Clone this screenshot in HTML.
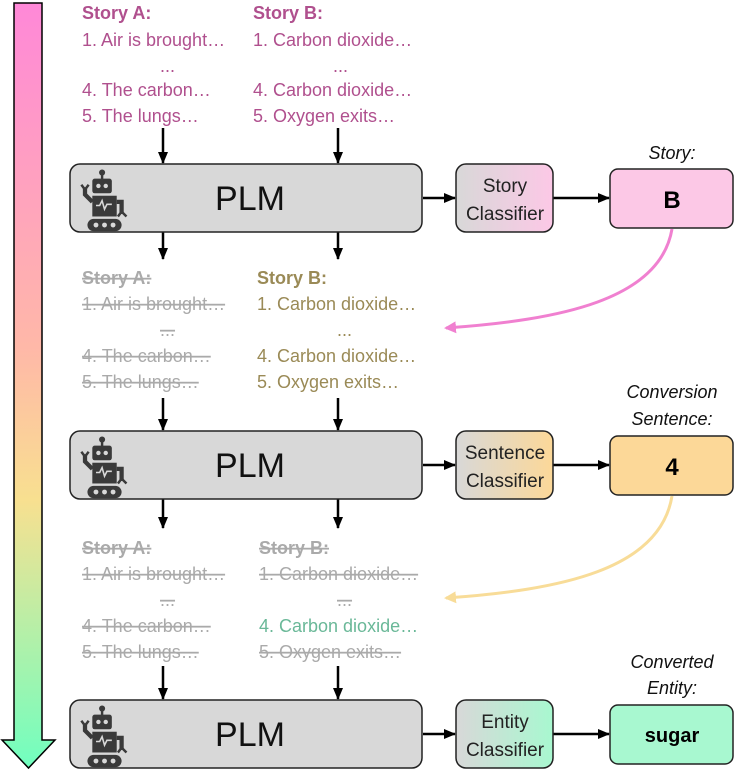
<!DOCTYPE html>
<html><head><meta charset="utf-8"><style>
body{margin:0;background:#fff}
svg{display:block;font-family:"Liberation Sans",sans-serif}
</style></head><body>
<svg width="738" height="776" viewBox="0 0 738 776" xmlns="http://www.w3.org/2000/svg">
<defs>
<linearGradient id="g" x1="0" y1="0" x2="0" y2="1">
<stop offset="0" stop-color="#ff88d8"/><stop offset="0.45" stop-color="#ffb8a8"/><stop offset="0.65" stop-color="#f8e090"/><stop offset="1" stop-color="#70ffc0"/></linearGradient>
<linearGradient id="c1" x1="0" x2="1"><stop offset="0" stop-color="#d8d8d8"/><stop offset="1" stop-color="#fcc8e6"/></linearGradient>
<linearGradient id="c2" x1="0" x2="1"><stop offset="0" stop-color="#d8d8d8"/><stop offset="1" stop-color="#fcd898"/></linearGradient>
<linearGradient id="c3" x1="0" x2="1"><stop offset="0" stop-color="#d8d8d8"/><stop offset="1" stop-color="#a8f8d0"/></linearGradient>
<marker id="ah" markerWidth="12" markerHeight="12" refX="11" refY="6" orient="auto" markerUnits="userSpaceOnUse" viewBox="0 0 12 12"><path d="M0,1 L12,6 L0,11z" fill="#000"/></marker>
<marker id="ap" markerWidth="12" markerHeight="12" refX="10" refY="6" orient="auto" markerUnits="userSpaceOnUse" viewBox="0 0 12 12"><path d="M0,0 L12,6 L0,12z" fill="#f080d0"/></marker>
<marker id="ay" markerWidth="12" markerHeight="12" refX="10" refY="6" orient="auto" markerUnits="userSpaceOnUse" viewBox="0 0 12 12"><path d="M0,0 L12,6 L0,12z" fill="#f8dc98"/></marker>
<g id="robot" fill="#3a3a3a">
<circle cx="14" cy="-2" r="2.5"/><rect x="13" y="-2" width="2" height="6"/>
<rect x="6" y="3" width="16" height="12" rx="2"/>
<circle cx="11" cy="9" r="1.8" fill="#d8d8d8"/><circle cx="17" cy="9" r="1.8" fill="#d8d8d8"/>
<rect x="6" y="17" width="20" height="17"/>
<path d="M9,25 l3,0 l2,-4 l2,7 l2,-4 l4,0" stroke="#d8d8d8" stroke-width="1.3" fill="none"/>
<path d="M6,22 L0,16 L0,10" stroke="#3a3a3a" stroke-width="3.5" fill="none"/>
<path d="M-3,8 L0,12 L3,8" stroke="#3a3a3a" stroke-width="2" fill="none"/>
<path d="M26,22 L30,22 L30,32" stroke="#3a3a3a" stroke-width="3.5" fill="none"/>
<path d="M27,34 L30,30 L34,34" stroke="#3a3a3a" stroke-width="2" fill="none"/>
<rect x="2" y="36" width="28" height="10" rx="5"/>
<circle cx="9" cy="41" r="2" fill="#d8d8d8"/><circle cx="16" cy="41" r="2" fill="#d8d8d8"/><circle cx="23" cy="41" r="2" fill="#d8d8d8"/>
</g>
</defs>
<path d="M14,3 H42 V740 H55 L28.5,768 L2,740 H14 Z" fill="url(#g)" stroke="#000" stroke-width="1.5"/>

<g font-size="18">
<g fill="#b0508e">
<text x="82" y="19" font-weight="bold">Story A:</text>
<text x="82" y="46">1. Air is brought…</text>
<text x="160" y="72">...</text>
<text x="82" y="96">4. The carbon…</text>
<text x="82" y="122">5. The lungs…</text>
<text x="253" y="19" font-weight="bold">Story B:</text>
<text x="253" y="46">1. Carbon dioxide…</text>
<text x="333" y="72">...</text>
<text x="253" y="96">4. Carbon dioxide…</text>
<text x="253" y="122">5. Oxygen exits…</text>
</g>
<g fill="#aaaaaa" text-decoration="line-through">
<text x="82" y="284" font-weight="bold">Story A:</text>
<text x="82" y="310">1. Air is brought…</text>
<text x="160" y="336">...</text>
<text x="82" y="362">4. The carbon…</text>
<text x="82" y="388">5. The lungs…</text>
</g>
<g fill="#9a8a56">
<text x="257" y="284" font-weight="bold">Story B:</text>
<text x="257" y="310">1. Carbon dioxide…</text>
<text x="337" y="336">...</text>
<text x="257" y="362">4. Carbon dioxide…</text>
<text x="257" y="388">5. Oxygen exits…</text>
</g>
<g fill="#aaaaaa" text-decoration="line-through">
<text x="82" y="554" font-weight="bold">Story A:</text>
<text x="82" y="580">1. Air is brought…</text>
<text x="160" y="606">...</text>
<text x="82" y="632">4. The carbon…</text>
<text x="82" y="658">5. The lungs…</text>
<text x="259" y="554" font-weight="bold">Story B:</text>
<text x="259" y="580">1. Carbon dioxide…</text>
<text x="337" y="606">...</text>
<text x="259" y="658">5. Oxygen exits…</text>
</g>
<text x="259" y="632" fill="#6ab898">4. Carbon dioxide…</text>
</g>

<g stroke="#000" stroke-width="2.5" marker-end="url(#ah)">
<line x1="163" y1="128" x2="163" y2="163"/><line x1="338" y1="128" x2="338" y2="163"/>
<line x1="163" y1="232" x2="163" y2="259"/><line x1="338" y1="232" x2="338" y2="259"/>
<line x1="163" y1="398" x2="163" y2="430"/><line x1="338" y1="398" x2="338" y2="430"/>
<line x1="163" y1="499" x2="163" y2="528"/><line x1="338" y1="499" x2="338" y2="528"/>
<line x1="163" y1="666" x2="163" y2="699"/><line x1="338" y1="666" x2="338" y2="699"/>
<line x1="423" y1="198" x2="455" y2="198"/><line x1="553" y1="198" x2="609" y2="198"/>
<line x1="423" y1="465" x2="455" y2="465"/><line x1="553" y1="465" x2="609" y2="465"/>
<line x1="423" y1="734" x2="455" y2="734"/><line x1="553" y1="734" x2="609" y2="734"/>
</g>

<g stroke="#222" stroke-width="1.5">
<rect x="70" y="164" width="352" height="68" rx="10" fill="#d8d8d8"/>
<rect x="70" y="431" width="352" height="68" rx="10" fill="#d8d8d8"/>
<rect x="70" y="700" width="352" height="68" rx="10" fill="#d8d8d8"/>
<rect x="456" y="164" width="97" height="68" rx="10" fill="url(#c1)"/>
<rect x="456" y="431" width="97" height="68" rx="10" fill="url(#c2)"/>
<rect x="456" y="700" width="97" height="68" rx="10" fill="url(#c3)"/>
<rect x="610" y="169" width="123" height="59" rx="8" fill="#fcc8e6"/>
<rect x="610" y="436" width="123" height="59" rx="8" fill="#fcd898"/>
<rect x="610" y="705" width="123" height="59" rx="8" fill="#a8f8d0"/>
</g>
<use href="#robot" transform="translate(85,175) scale(1.22)"/>
<use href="#robot" transform="translate(85,442) scale(1.22)"/>
<use href="#robot" transform="translate(85,711) scale(1.22)"/>
<g font-size="34" text-anchor="middle" fill="#111">
<text x="250" y="210">PLM</text><text x="250" y="477">PLM</text><text x="250" y="746">PLM</text>
</g>
<g font-size="19" text-anchor="middle" fill="#222">
<text x="505" y="192">Story</text><text x="505" y="220">Classifier</text>
<text x="505" y="459">Sentence</text><text x="505" y="487">Classifier</text>
<text x="505" y="728">Entity</text><text x="505" y="756">Classifier</text>
</g>
<g font-weight="bold" text-anchor="middle" fill="#000">
<text x="672" y="208" font-size="24">B</text>
<text x="672" y="475" font-size="24">4</text>
<text x="672" y="742" font-size="20">sugar</text>
</g>
<g font-size="18" font-style="italic" text-anchor="middle" fill="#111">
<text x="672" y="159">Story:</text>
<text x="672" y="398">Conversion</text><text x="672" y="425">Sentence:</text>
<text x="672" y="668">Converted</text><text x="672" y="694">Entity:</text>
</g>
<path d="M672,229 C660,300 560,320 446,328" stroke="#f080d0" stroke-width="3" fill="none" marker-end="url(#ap)"/>
<path d="M672,496 C660,570 560,590 446,598" stroke="#f8dc98" stroke-width="3" fill="none" marker-end="url(#ay)"/>
</svg>
</body></html>
